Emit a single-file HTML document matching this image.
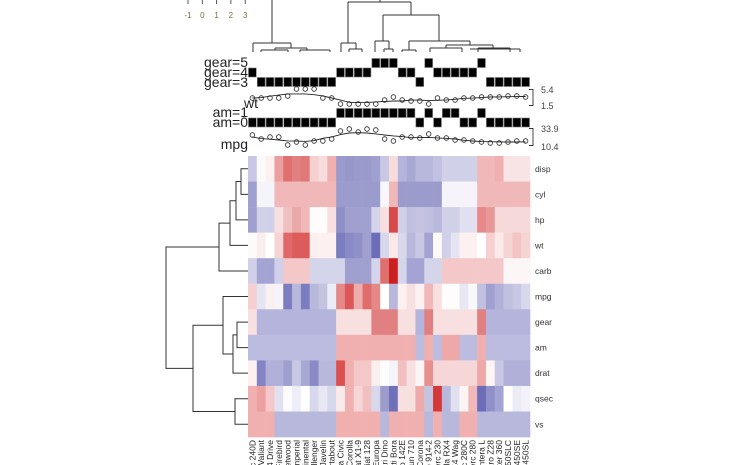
<!DOCTYPE html>
<html><head><meta charset="utf-8"><style>
html,body{margin:0;padding:0;background:#fff;width:752px;height:465px;overflow:hidden;}
svg{display:block;overflow:hidden;}
text{font-family:"Liberation Sans",sans-serif;}
</style></head><body>
<svg id="s" width="752" height="465" viewBox="0 0 752 465" xmlns="http://www.w3.org/2000/svg"></svg>
<script>
var S=document.getElementById('s');var h='';
var X0=248,CW=8.8125,Y0=156,RH=25.55;
var rows=[
['c8c8e4','fafafd','fcf0f0','eaa0a0','e07070','e08080','e07878','f5d0d0','f8dcdc','f0b0b0','9a9acc','9898c8','9a9acc','9a9acc','a0a0d0','c8c8e4','f8dcdc','b4b4dc','a8a8d4','b8b8dc','b8b8dc','c0c0e0','d0d0e8','d0d0e8','d0d0e8','d0d0e8','f0b8b8','f0b8b8','f0b0b0','f8e4e4','f8e4e4','f8e4e4'],
['a0a0d0','f4f4fa','f4f4fa','f0b8b8','f0b8b8','f0b8b8','f0b8b8','f0b8b8','f0b8b8','f0b8b8','9c9ccc','9c9ccc','9c9ccc','9c9ccc','9c9ccc','f8f8fc','f0b8b8','9c9ccc','9c9ccc','9c9ccc','9c9ccc','9c9ccc','f6f4fa','f6f4fa','f6f4fa','f6f4fa','f0b8b8','f0b8b8','f0b8b8','f0b8b8','f0b8b8','f0b8b8'],
['a0a0d0','d0d0e8','d0d0e8','f8e0e0','f0c0c0','eaa8a8','f0b8b8','fffcfc','fffcfc','f8e0e0','9090c8','a0a0d0','a0a0d0','a0a0d0','d4d4ea','f8e0e0','d84848','d0d0e8','c0c0e0','c4c4e0','c0c0e0','b8b8dc','d0d0e8','d0d0e8','e0e0f0','e0e0f0','e88888','e89898','f6dada','f6dada','f6dada','f6dada'],
['fdfafa','fbeeee','ffffff','f6d4d4','e06868','dc5c5c','dc5c5c','fbeeee','fdf0f0','fdf0f0','7c7cc0','8a8ac6','9090c8','a0a0d0','6c6cb8','d8d8ec','fce8e8','d8d8ec','b8b8dc','c8c8e4','a4a4d4','fdfafa','d0d0e8','e4e4f2','fdf0f0','fdf0f0','fefefe','f6d0d0','fbe8e8','f6d4d4','f2c4c4','f6d4d4'],
['d0d0e8','a4a4d4','a4a4d4','d0d0e8','f4c8c8','f4c8c8','f4c8c8','d4d4ea','d4d4ea','d4d4ea','d4d4ea','a0a0d0','a0a0d0','a0a0d0','d4d4ea','e07070','cc2020','d4d4ea','a4a4d4','a4a4d4','d4d4ea','d4d4ea','f4c8c8','f4c8c8','f4c8c8','f4c8c8','f4c8c8','f4c8c8','f4c8c8','fdf6f6','fdf6f6','fdf6f6'],
['f6d0d0','e4e4f2','fbf0f0','f4f4fa','7c7cc0','b8b8dc','7c7cc0','b8b8dc','c4c4e0','ececf6','e48888','dc5858','eeacac','e06c6c','e48888','ffffff','b8b8dc','fdf0f0','f8e0e0','fdf0f0','f0b8b8','f8e0e0','fefcfc','fefcfc','e8e8f4','f8f8fc','c0c0e0','a0a0d0','b0b0d8','c0c0e0','c8c8e4','d8d8ec'],
['f8e0e0','b4b4dc','b4b4dc','b4b4dc','b4b4dc','b4b4dc','b4b4dc','b4b4dc','b4b4dc','b4b4dc','f8e0e0','f8e0e0','f8e0e0','f8e0e0','e08080','e08080','e08080','f8e0e0','f8e0e0','b4b4dc','e08080','f8e0e0','f8e0e0','f8e0e0','f8e0e0','f8e0e0','e08080','b4b4dc','b4b4dc','b4b4dc','b4b4dc','b4b4dc'],
['bcbce0','bcbce0','bcbce0','bcbce0','bcbce0','bcbce0','bcbce0','bcbce0','bcbce0','bcbce0','f0b0b0','f0b0b0','f0b0b0','f0b0b0','f0b0b0','f0b0b0','f0b0b0','f0b0b0','f0b0b0','bcbce0','f0b0b0','bcbce0','eea8a8','eea8a8','bcbce0','bcbce0','f0b0b0','bcbce0','bcbce0','bcbce0','bcbce0','bcbce0'],
['fdf0f0','8484c4','b0b0d8','b0b0d8','a0a0d0','c8c8e4','a8a8d4','8a8ac6','b8b8dc','b8b8dc','dc5050','f0b0b0','f4c8c8','f4c8c8','fbeeee','fefefe','f4f4fa','f2c0c0','f8e0e0','fdf4f4','e89090','f6d6d6','f6d6d6','f6d6d6','f6d6d6','f6d6d6','eea8a8','fdf4f4','c8c8e4','b0b0d8','b0b0d8','b0b0d8'],
['f0b0b0','eca0a0','f4c8c8','e0e0f0','fcfcfe','eeeef8','ffffff','d8d8ec','e8e8f4','d8d8ec','fbeaea','f0b0b0','f6d6d6','f0c0c0','d8d8ec','9c9ccc','7070b8','f8e0e0','f8e0e0','eeaaaa','c4c4e0','d43838','b8b8dc','e0e0f0','fdf4f4','f0b8b8','6c6cb8','9090c8','a4a4d4','fefefe','ececf6','f2f2f8'],
['f0b0b0','f0b0b0','f0b0b0','b8b8dc','b8b8dc','b8b8dc','b8b8dc','b8b8dc','b8b8dc','b8b8dc','f0b0b0','f0b0b0','f0b0b0','f0b0b0','f0b0b0','b8b8dc','f0b0b0','f0b0b0','f0b0b0','f0b0b0','b8b8dc','f0b0b0','b8b8dc','b8b8dc','f0b0b0','f0b0b0','b8b8dc','b8b8dc','b8b8dc','b8b8dc','b8b8dc','b8b8dc']];
var rn=['disp','cyl','hp','wt','carb','mpg','gear','am','drat','qsec','vs'];
for(var r=0;r<11;r++){for(var c=0;c<32;c++){h+='<rect x="'+(X0+c*CW).toFixed(2)+'" y="'+(Y0+r*RH).toFixed(2)+'" width="'+(CW+0.3).toFixed(2)+'" height="'+(RH+0.3).toFixed(2)+'" fill="#'+rows[r][c]+'"/>';}
 h+='<text x="535" y="'+(Y0+r*RH+RH/2+3).toFixed(1)+'" font-size="8.5" fill="#333">'+rn[r]+'</text>';}
var cn=['Merc 240D','Valiant','Hornet 4 Drive','Pontiac Firebird','Cadillac Fleetwood','Chrysler Imperial','Lincoln Continental','Dodge Challenger','AMC Javelin','Hornet Sportabout','Honda Civic','Toyota Corolla','Fiat X1-9','Fiat 128','Lotus Europa','Ferrari Dino','Maserati Bora','Volvo 142E','Datsun 710','Toyota Corona','Porsche 914-2','Merc 230','Mazda RX4','Mazda RX4 Wag','Merc 280C','Merc 280','Ford Pantera L','Camaro Z28','Duster 360','Merc 450SLC','Merc 450SE','Merc 450SL'];
for(var c=0;c<32;c++){var cx=X0+c*CW+CW/2+3;h+='<text transform="translate('+cx.toFixed(1)+',440) rotate(-90)" text-anchor="end" font-size="8.5" fill="#222">'+cn[c]+'</text>';}
function sq(c,y){h+='<rect x="'+(X0+c*CW+0.5).toFixed(1)+'" y="'+y+'" width="'+(CW-1).toFixed(1)+'" height="9" fill="#000" stroke="#777" stroke-width="0.6"/>';}
var g=[4,3,3,3,3,3,3,3,3,3,4,4,4,4,5,5,5,4,4,3,5,4,4,4,4,4,5,3,3,3,3,3];
for(var c=0;c<32;c++){sq(c,g[c]==5?58.5:(g[c]==4?68:77.5));}
var am=[0,0,0,0,0,0,0,0,0,0,1,1,1,1,1,1,1,1,1,0,1,0,1,1,0,0,1,0,0,0,0,0];
for(var c=0;c<32;c++){sq(c,am[c]?108.5:118);}
var wy=[98,98,98,98,96,89,89,89,98,98,104,104,104,104,104,100,97,100,101,101,104,98,100,100,98,98,97,97,97,96,96,97];
var my=[135,139,137,137,145,142,145,141,141,139,131,129,132,129,130,139,141,137,137,138,134,138,138,140,140,141,142,143,143,142,141,141];
function pts(a,lineY){var p='';for(var c=0;c<32;c++){var cx=X0+c*CW+CW/2;h+='<circle cx="'+cx.toFixed(1)+'" cy="'+a[c]+'" r="2.3" fill="none" stroke="#222" stroke-width="0.8"/>';p+=cx.toFixed(1)+','+lineY[c]+' ';}h+='<polyline points="'+p+'" fill="none" stroke="#222" stroke-width="0.9"/>';}
var wl=[],ml=[];for(var c=0;c<32;c++){var s=0,n=0;for(var k=-3;k<=3;k++){if(c+k>=0&&c+k<32){s+=wy[c+k];n++;}}wl.push((s/n).toFixed(1));s=0;n=0;for(var k=-3;k<=3;k++){if(c+k>=0&&c+k<32){s+=my[c+k];n++;}}ml.push((s/n).toFixed(1));}
pts(wy,wl);pts(my,ml);
h+='<path d="M529 89.5H533V105.5H529M529 128.5H533V145.5H529" fill="none" stroke="#333" stroke-width="0.9"/>';
h+='<text x="541" y="93" font-size="9" fill="#444">5.4</text><text x="541" y="109" font-size="9" fill="#444">1.5</text><text x="541" y="132" font-size="9" fill="#444">33.9</text><text x="541" y="150" font-size="9" fill="#444">10.4</text>';
var L=[['gear=5',67],['gear=4',77],['gear=3',87],['wt',108],['am=1',117],['am=0',127],['mpg',149]];
L.forEach(function(l){h+='<text x="'+(l[0]=='wt'?258:248)+'" y="'+l[1]+'" text-anchor="end" font-size="14" fill="#222">'+l[0]+'</text>';});
['-1','0','1','2','3'].forEach(function(t,i){var x=188+i*14.3;h+='<line x1="'+x+'" y1="0" x2="'+x+'" y2="4" stroke="#333" stroke-width="0.8"/><text x="'+x+'" y="18" text-anchor="middle" font-size="8" fill="#7a6a40">'+t+'</text>';});
var rc=function(i){return Y0+i*RH+RH/2;};
var d='';
d+='M248 '+rc(0)+'H241V'+rc(1)+'H248';
var m1=(rc(0)+rc(1))/2;d+='M241 '+m1+'H236V'+rc(2)+'H248';
var m2=(m1+rc(2))/2;d+='M236 '+m2+'H230V'+rc(3)+'H248';
var m3=(m2+rc(3))/2;d+='M230 '+m3+'H219V'+rc(4)+'H248';
var m4=(m3+rc(4))/2;
d+='M248 '+rc(6)+'H237V'+rc(7)+'H248';var n1=(rc(6)+rc(7))/2;
d+='M237 '+n1+'H233V'+rc(8)+'H248';var n2=(n1+rc(8))/2;
d+='M233 '+n2+'H223V'+rc(5)+'H248';var n3=(n2+rc(5))/2;
d+='M248 '+rc(9)+'H235V'+rc(10)+'H248';var n4=(rc(9)+rc(10))/2;
d+='M223 '+n3+'H193V'+n4+'H235';var n5=(n3+n4)/2;
d+='M219 '+m4+'H166V'+n5+'H193';
h+='<path d="'+d+'" fill="none" stroke="#333" stroke-width="1"/>';
var e='M272 0V43M253 43H291M380 0V2M348 2H411M348 2V43M341 43H356M411 2V15M383 15H439M383 15V41M375 41H389M439 15V41M409 41H470M470 41V45M446 45H493';
e+='M253 43V52M291 43V48M275 48H307M275 48V50M261 50H288M307 48V50M300 50H330';
e+='M341 43V52M356 43V49M349 49H362';
e+='M375 41V52M389 41V49M384 49H393';
e+='M409 41V50M402 50H416';
e+='M446 45V48M430 48H462M493 45V48M478 48H510M470 49H520';
e+='M261 50V52M288 50V52M300 50V52M330 50V52M349 49V52M362 49V52M384 49V52M393 49V52M402 50V52M416 50V52M430 48V52M462 48V52M478 48V52M510 48V52M520 49V52';
h+='<path d="'+e+'" fill="none" stroke="#333" stroke-width="1"/>';
S.innerHTML=h;
</script>
</body></html>
